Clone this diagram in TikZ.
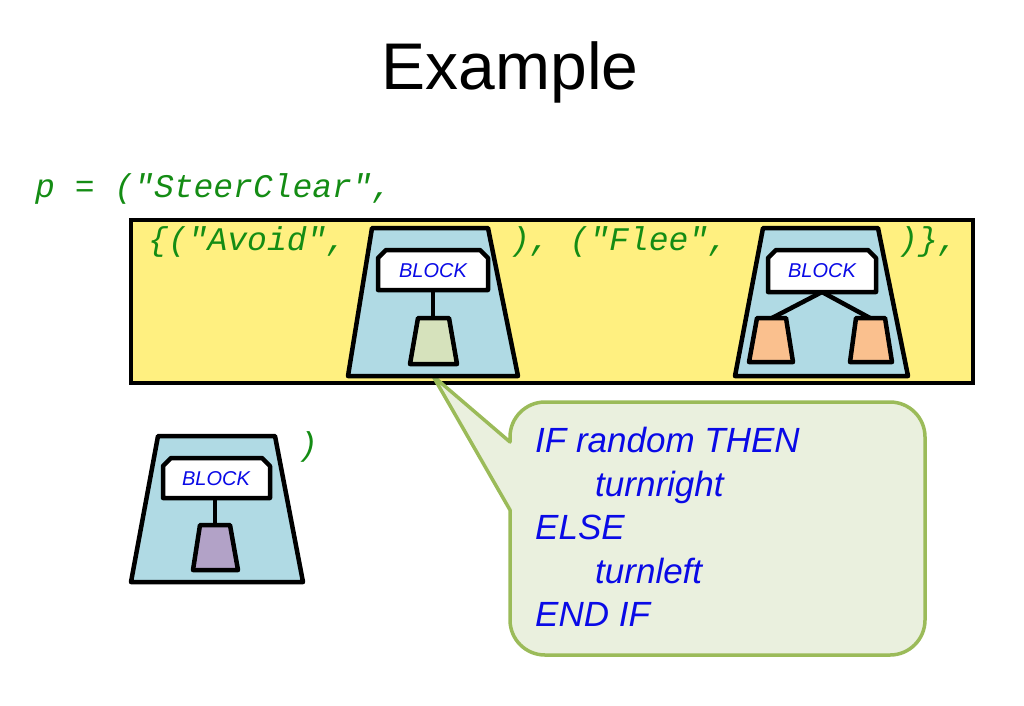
\documentclass[tikz,border=0pt]{standalone}
\usepackage{fontspec}
\setmainfont{Liberation Sans}
\newfontfamily\codefont{Liberation Mono}
\usetikzlibrary{positioning}

\definecolor{codegreen}{RGB}{20,140,20}
\definecolor{boxyellow}{RGB}{255,240,128}
\definecolor{blockblue}{RGB}{176,218,228}
\definecolor{leafgreen}{RGB}{214,226,188}
\definecolor{leafpeach}{RGB}{250,192,142}
\definecolor{leafpurple}{RGB}{178,162,199}
\definecolor{calloutfill}{RGB}{234,240,222}
\definecolor{calloutedge}{RGB}{155,187,89}
\definecolor{codeblue}{RGB}{10,10,230}

\tikzset{
  code/.style={font=\codefont\itshape\fontsize{33}{33}\selectfont, text=codegreen, anchor=base west, inner sep=0},
  shape line/.style={line width=4.5pt, line join=round},
  blocklabel/.style={font=\itshape\fontsize{20}{20}\selectfont, text=codeblue},
  ifcode/.style={font=\itshape\fontsize{35}{35}\selectfont, text=codeblue, anchor=base west, inner sep=0}
}

% trapezoid: top left x, top right x, top y, bottom left x, bottom right x, bottom y, fill
\newcommand{\trap}[7]{\draw[shape line, fill=#7] (#1,#3) -- (#2,#3) -- (#5,#6) -- (#4,#6) -- cycle;}
% label box with cut top corners
\newcommand{\lbox}[4]{\draw[shape line, fill=white] (#1,#4) -- (#1,#2+8) -- (#1+8,#2) -- (#3-8,#2) -- (#3,#2+8) -- (#3,#4) -- cycle;}

\begin{document}
\begin{tikzpicture}[x=1pt,y=-1pt]
\useasboundingbox (0,0) rectangle (1024,705);

\node (title) at (510,72) {\fontsize{66}{66}\selectfont Example};

\node[code] (pline) at (35,197) {p = ("SteerClear",};

\draw[line width=4.5pt, fill=boxyellow] (131,220) rectangle (973,383);

\node[code] (avoid) at (148,250) {\{("Avoid",};
\node[code] (flee) at (510,250) {), ("Flee",};
\node[code] (close) at (898,250) {)\},};
\node[code] (closep) at (298,455) {)};

% callout
\coordinate (tip) at (433,376);
\draw[line width=3.5pt, color=calloutedge, fill=calloutfill, line join=round]
  (700,402) [rounded corners=35pt] -- (925,402) -- (925,655) -- (510,655) [rounded corners=0pt] -- (510,510)
  -- (tip) -- (510,442) [rounded corners=35pt] -- (510,402) -- cycle;
\node[ifcode] (if) at (535,452) {IF random THEN};
\node[ifcode] (tr) at (595,496) {turnright};
\node[ifcode] (else) at (535,539) {ELSE};
\node[ifcode] (tl) at (595,583) {turnleft};
\node[ifcode] (endif) at (535,626) {END IF};

% block with one leaf
\trap{372}{488}{228}{348}{518}{376}{blockblue}
\lbox{378}{250}{488}{290}
\node[blocklabel] (blockA) at (433,271) {BLOCK};
\coordinate (stemA) at (433,290);
\coordinate (leafA) at (433,318);
\draw[shape line] (stemA) -- (leafA);
\trap{418}{449}{318}{410}{457}{364}{leafgreen}

% block with two leaves
\trap{763}{878}{228}{735}{908}{376}{blockblue}
\lbox{768}{250}{876}{292}
\node[blocklabel] (blockB) at (822,271) {BLOCK};
\coordinate (stemB) at (822,292);
\coordinate (leafB1) at (772,318);
\coordinate (leafB2) at (870,318);
\draw[shape line] (leafB1) -- (stemB) -- (leafB2);
\trap{757}{786}{318}{749}{793}{362}{leafpeach}
\trap{856}{885}{318}{850}{892}{362}{leafpeach}

% lone block
\trap{158}{275}{436}{131}{303}{582}{blockblue}
\lbox{163}{458}{270}{498}
\node[blocklabel] (blockC) at (216,479) {BLOCK};
\coordinate (stemC) at (215,498);
\coordinate (leafC) at (215,525);
\draw[shape line] (stemC) -- (leafC);
\trap{200}{230}{525}{193}{238}{570}{leafpurple}
\end{tikzpicture}
\end{document}
